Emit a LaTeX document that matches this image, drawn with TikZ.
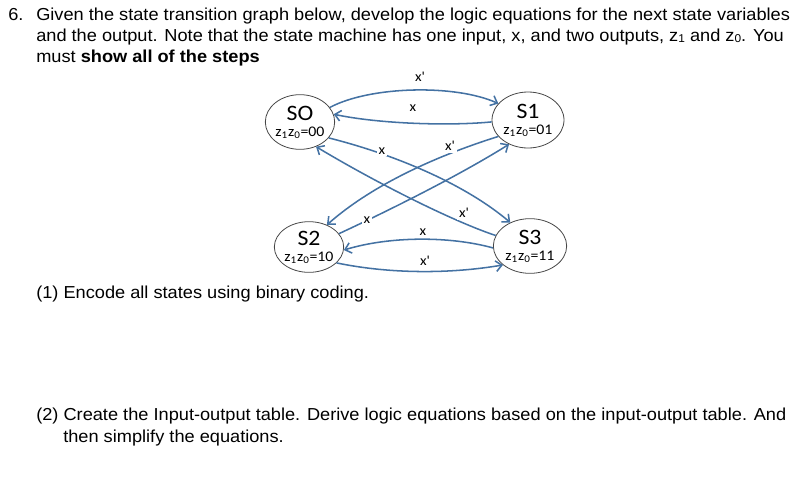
\documentclass[tikz,border=0pt]{standalone}
\usepackage{amsmath}
\usepackage{amssymb}
\usepackage{fontspec}
\setmainfont{Liberation Sans}[FakeStretch=1.05]
\newfontfamily\statefont{Carlito}[FakeStretch=1.08]
\usepackage{tikz}
\usetikzlibrary{shapes.geometric,arrows.meta}
\definecolor{edgeblue}{RGB}{68,114,163}
\definecolor{rimgray}{RGB}{70,70,70}
\newcommand{\zsub}[1]{\raisebox{-1pt}{\fontsize{8.5}{8.5}\selectfont #1}}
\newcommand{\statetext}[2]{{\fontsize{16.5}{16.5}\selectfont #1}\\[0pt]{\fontsize{11}{11}\selectfont z\textsubscript{1}z\textsubscript{0}=#2}}
\tikzset{
  statebox/.style={ellipse,draw=rimgray,line width=0.6pt,inner sep=0pt,align=center,font=\statefont,minimum width=51pt,minimum height=41pt},
  tagx/.style={font=\statefont\fontsize{10.5}{11}\selectfont,inner sep=0.75pt},
  tagcut/.style={tagx,fill=white,inner sep=1.5pt},
  flow/.style={draw=edgeblue,line width=1.15pt,-{Straight Barb[length=4.5pt,width=8pt]}},
  txt/.style={anchor=base west,inner sep=0pt,font=\fontsize{13}{15}\selectfont}
}

\begin{document}
\begin{tikzpicture}[x=0.75pt,y=0.75pt,yscale=-1,xscale=1]
\path[use as bounding box] (0,0) rectangle (810,482);

% Text Node
\node[txt] (qnum) at (8,20) {6.};
% Text Node
\node[txt] (qline1) at (36,20) {Given the state transition graph below, develop the logic equations for the next state variables};
% Text Node
\node[txt] (qline2) at (36,41) {and the output. Note that the state machine has one input, x, and two outputs, z\zsub{1} and z\zsub{0}. You};
% Text Node
\node[txt] (qline3) at (36,62) {must \textbf{show all of the steps}};

%Shape: Ellipse
\node[statebox] (s0) at (300,122) {\statetext{SO}{00}};
%Shape: Ellipse
\node[statebox,minimum width=54pt,minimum height=42pt] (s1) at (528,120) {\statetext{S1}{01}};
%Shape: Ellipse
\node[statebox,minimum height=38pt] (s2) at (309,247) {\statetext{S2}{10}};
%Shape: Ellipse
\node[statebox,minimum width=55pt] (s3) at (530,246) {\statetext{S3}{11}};

%Curve Lines
\draw[flow] (s0.26) .. controls (370,86) and (455,84) .. (s1.151);
%Curve Lines
\draw[flow] (s1.183) .. controls (450,126) and (380,124) .. (s0.13);
%Curve Lines
\draw[flow] (s0.-29) .. controls (385,152) and (460,180) .. (s3.130);
%Curve Lines
\draw[flow] (s1.209) .. controls (455,150) and (380,178) .. (s2.51);
%Curve Lines
\draw[flow] (s2.24) .. controls (390,210) and (460,175) .. (s1.232);
%Curve Lines
\draw[flow] (s3.163) .. controls (455,222) and (380,185) .. (s0.-57);
%Curve Lines
\draw[flow] (s3.183) .. controls (450,236) and (390,236) .. (s2.-5);
%Curve Lines
\draw[flow] (s2.-30) .. controls (390,274) and (450,274) .. (s3.215);

% Text Node
\node[tagx] (t01) at (420,77) {x'};
% Text Node
\node[tagx] (t10) at (413,108) {x};
% Text Node
\node[tagcut] (t03) at (382,151) {x};
% Text Node
\node[tagcut] (t12) at (450,146) {x'};
% Text Node
\node[tagcut] (t21) at (367,220) {x};
% Text Node
\node[tagcut] (t30) at (464,213) {x'};
% Text Node
\node[tagx] (t32) at (423,232) {x};
% Text Node
\node[tagx] (t23) at (425,261) {x'};

% Text Node
\node[txt] (part1) at (36,298) {(1) Encode all states using binary coding.};
% Text Node
\node[txt] (part2a) at (36,420) {(2) Create the Input-output table. Derive logic equations based on the input-output table. And};
% Text Node
\node[txt] (part2b) at (63,442) {then simplify the equations.};

\end{tikzpicture}
\end{document}
